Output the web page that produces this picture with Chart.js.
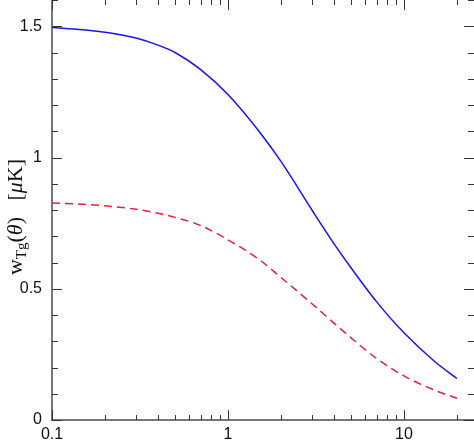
<!DOCTYPE html>
<html>
<head>
<meta charset="utf-8">
<script src="https://cdn.jsdelivr.net/npm/chart.js@4"></script>
<style>
html,body{margin:0;padding:0;background:#fff;}
#wrap{width:474px;height:441px;position:relative;}
</style>
</head>
<body>
<div id="wrap"><canvas id="c" width="474" height="441"></canvas></div>
<script>
// angular separation theta (x)
const theta = [0.1, 0.15, 0.2, 0.3, 0.4, 0.5, 0.7, 1, 1.5, 2, 3, 4, 5, 7, 10, 15, 20];
// solid blue model
const blueSeries = [1.495, 1.487, 1.477, 1.455, 1.428, 1.400, 1.335, 1.240, 1.100, 0.985, 0.800, 0.672, 0.580, 0.450, 0.332, 0.222, 0.158];
// dashed red model
const redSeries = [0.827, 0.822, 0.816, 0.803, 0.788, 0.772, 0.741, 0.686, 0.612, 0.543, 0.443, 0.369, 0.313, 0.234, 0.168, 0.113, 0.083];
// labelled ticks
const xTickLabels = [0.1, 1, 10];
const yTickLabels = [0, 0.5, 1, 1.5];
const yMinorStep = 0.1;

const toXY = (xs, ys) => xs.map((x, i) => ({x: x, y: ys[i]}));

const tickPlugin = {
  id: 'innerTicks',
  afterDraw(chart) {
    const ctx = chart.ctx;
    const xs = chart.scales.x, ys = chart.scales.y;
    const a = chart.chartArea;
    ctx.save();
    ctx.strokeStyle = '#333';
    ctx.lineWidth = 1;
    ctx.beginPath();
    for (let d = -1; d <= 1; d++) {
      for (let m = 1; m <= 9; m++) {
        const v = m * Math.pow(10, d);
        if (v < xs.min - 1e-9 || v > xs.max + 1e-9) continue;
        const px = Math.round(xs.getPixelForValue(v)) + 0.5;
        const len = (m === 1) ? 10 : 5;
        ctx.moveTo(px, a.bottom); ctx.lineTo(px, a.bottom - len);
        ctx.moveTo(px, a.top); ctx.lineTo(px, a.top + len);
      }
    }
    for (let i = 0; i <= 16; i++) {
      const v = i * yMinorStep;
      const py = Math.round(ys.getPixelForValue(v)) + 0.5;
      const len = (i % 5 === 0) ? 10 : 6;
      ctx.moveTo(a.left, py); ctx.lineTo(a.left + len, py);
      ctx.moveTo(a.right, py); ctx.lineTo(a.right - len, py);
    }
    ctx.stroke();

    // y axis title with subscript
    ctx.fillStyle = '#111';
    ctx.translate(16, 217);
    ctx.rotate(-Math.PI / 2);
    const parts = [
      {t: 'w', f: '22px "Liberation Serif"', dy: 0},
      {t: 'Tg', f: '15px "Liberation Serif"', dy: 6},
      {t: '(', f: '22px "Liberation Serif"', dy: 0},
      {t: 'θ', f: 'italic 22px "Liberation Serif"', dy: 0},
      {t: ')   [', f: '22px "Liberation Serif"', dy: 0},
      {t: 'μ', f: 'italic 22px "Liberation Serif"', dy: 0},
      {t: 'K]', f: '22px "Liberation Serif"', dy: 0}
    ];
    let total = 0;
    parts.forEach(p => { ctx.font = p.f; p.w = ctx.measureText(p.t).width; total += p.w; });
    let x = -total / 2;
    ctx.textBaseline = 'middle';
    parts.forEach(p => { ctx.font = p.f; ctx.fillText(p.t, x, p.dy); x += p.w; });
    ctx.restore();
  }
};

new Chart(document.getElementById('c'), {
  type: 'line',
  data: {
    datasets: [
      {data: toXY(theta, blueSeries), borderColor: '#1515ee', borderWidth: 1.5, pointRadius: 0, fill: false, cubicInterpolationMode: 'monotone'},
      {data: toXY(theta, redSeries), borderColor: '#e8203a', borderWidth: 1.5, borderDash: [8, 5], pointRadius: 0, fill: false, cubicInterpolationMode: 'monotone'}
    ]
  },
  options: {
    responsive: false,
    animation: false,
    devicePixelRatio: 1,
    layout: {padding: {left: 0, right: 0, top: 0, bottom: 0}},
    plugins: {legend: {display: false}, tooltip: {enabled: false}},
    scales: {
      x: {
        type: 'logarithmic',
        min: 0.1, max: 25,
        afterBuildTicks: s => { s.ticks = xTickLabels.map(v => ({value: v})); },
        afterFit: s => { s.height = 21; s.paddingLeft = 0; s.paddingRight = 0; },
        grid: {display: true, drawOnChartArea: false, drawTicks: false},
        border: {display: true, color: '#777', width: 2},
        ticks: {
          padding: 5, color: '#111', maxRotation: 0, autoSkip: false,
          font: {family: '"Liberation Sans"', size: 16},
          callback: v => String(v)
        }
      },
      y: {
        type: 'linear',
        min: 0, max: 1.6,
        afterBuildTicks: s => { s.ticks = yTickLabels.map(v => ({value: v})); },
        afterFit: s => { s.width = 52; s.paddingTop = 0; s.paddingBottom = 0; },
        grid: {display: true, drawOnChartArea: false, drawTicks: false},
        border: {display: true, color: '#777', width: 2},
        ticks: {
          padding: 10, color: '#111',
          font: {family: '"Liberation Sans"', size: 16},
          callback: v => String(v)
        }
      }
    }
  },
  plugins: [tickPlugin]
});
</script>
</body>
</html>
